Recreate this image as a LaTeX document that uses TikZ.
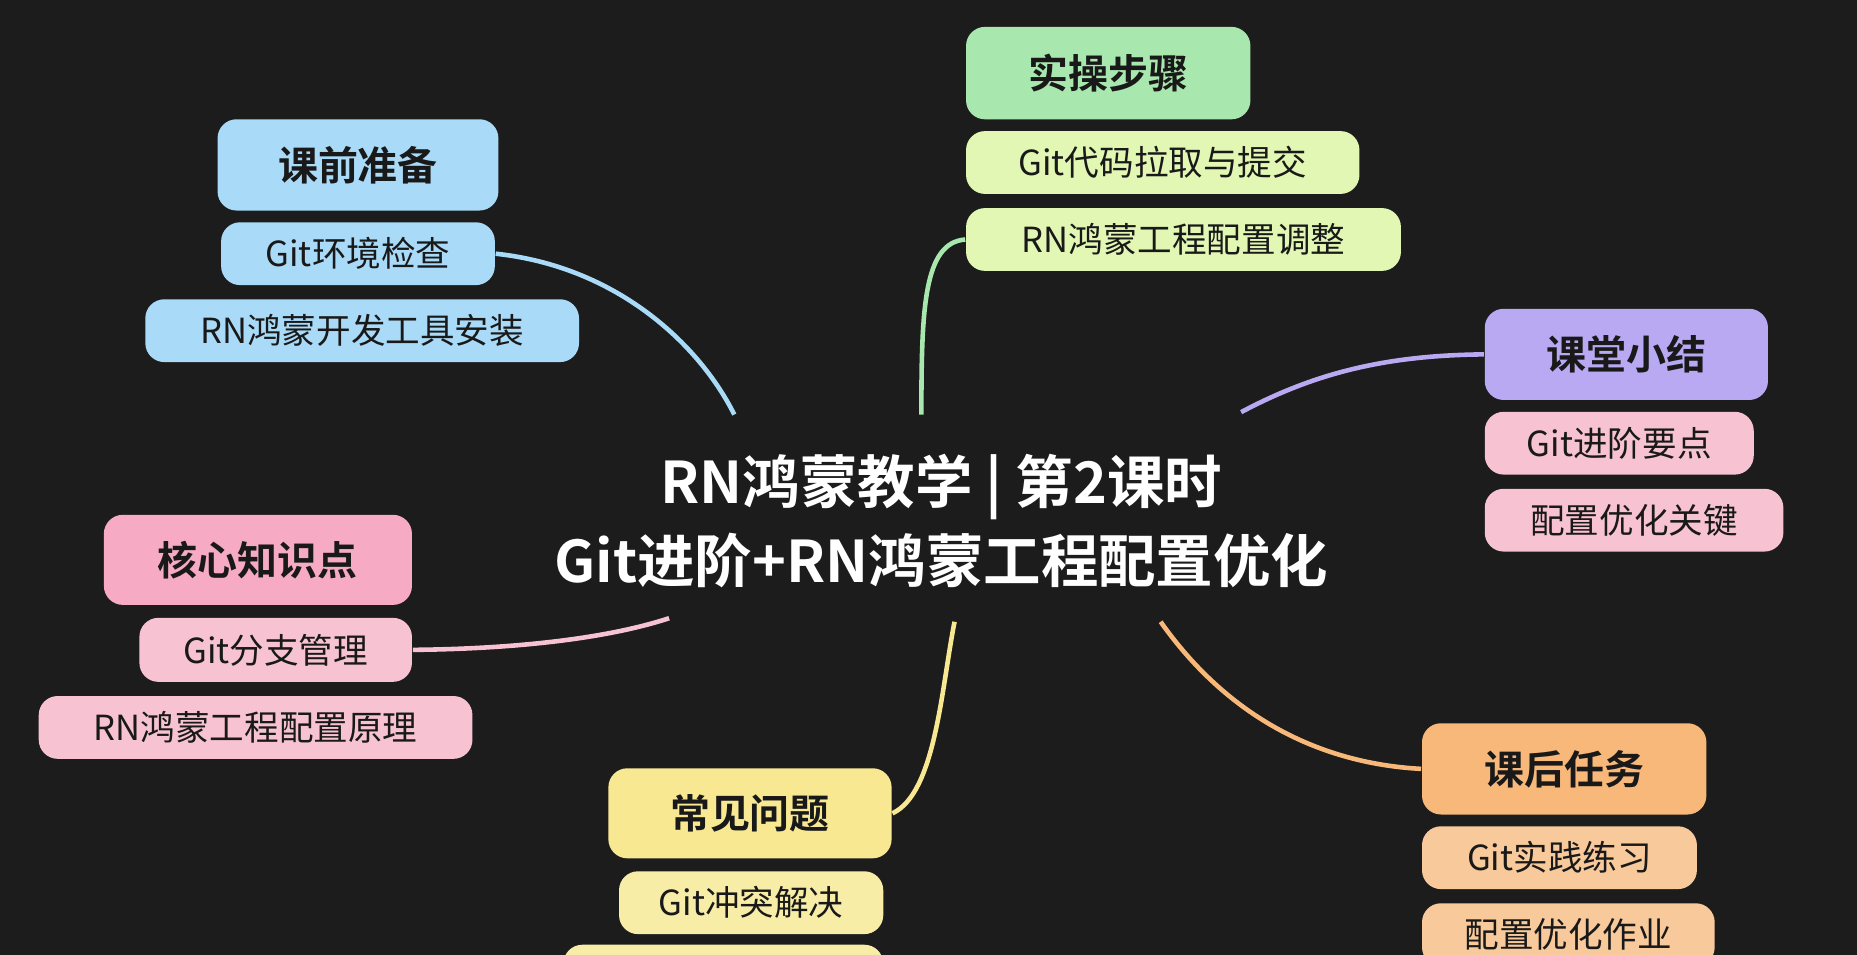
\documentclass[tikz,border=0pt]{standalone}
\usepackage{fontspec}
\setmainfont{Noto Sans CJK SC}
\newfontfamily\cjkb{Noto Sans CJK SC Bold}
\begin{document}
\begin{tikzpicture}[x=0.01cm,y=-0.01cm,
  box/.style={rounded corners=0.16cm,inner sep=0pt,anchor=north west},
  hd/.style={box,font=\cjkb\fontsize{9.6}{11}\selectfont,text=black!90},
  sb/.style={box,font=\fontsize{8.3}{10}\selectfont,text=black!90},
  ln/.style={line width=1.1pt}]
\definecolor{bg}{HTML}{1C1C1C}
\definecolor{cblue}{HTML}{A9DAF8}
\definecolor{cgreen}{HTML}{A8E8AE}
\definecolor{cyg}{HTML}{E2F7B4}
\definecolor{cpurp}{HTML}{B9A8F2}
\definecolor{cpink}{HTML}{F7C3D2}
\definecolor{cpink2}{HTML}{F6AAC3}
\definecolor{cyel}{HTML}{F7E891}
\definecolor{cyel2}{HTML}{F8EDA6}
\definecolor{corg}{HTML}{F8B87A}
\definecolor{corg2}{HTML}{F8C99A}
\fill[bg] (0,0) rectangle (1568,806);
\useasboundingbox (0,0) rectangle (1568,806);
\node[text=white,font=\cjkb\fontsize{13.8}{19}\selectfont,align=center] (c) at (795,440)
 {RN鸿蒙教学 | 第2课时\\Git进阶+RN鸿蒙工程配置优化};
% blue
\node[hd,fill=cblue,minimum width=23.7mm,minimum height=7.7mm] (a) at (183,100) {课前准备};
\node[sb,fill=cblue,minimum width=23.1mm,minimum height=5.3mm] (a1) at (186,187) {Git环境检查};
\node[sb,fill=cblue,minimum width=36.6mm,minimum height=5.3mm] (a2) at (122,252) {RN鸿蒙开发工具安装};
\coordinate (ae) at (620,350);
\draw[ln,cblue] (a1.east) .. controls (520,225) and (590,290) .. (ae);
% green
\node[hd,fill=cgreen,minimum width=24mm,minimum height=7.8mm] (b) at (815,22) {实操步骤};
\node[sb,fill=cyg,minimum width=33.2mm,minimum height=5.3mm] (b1) at (815,110) {Git代码拉取与提交};
\node[sb,fill=cyg,minimum width=36.7mm,minimum height=5.3mm] (b2) at (815,175) {RN鸿蒙工程配置调整};
\coordinate (be) at (778,350);
\draw[ln,cgreen] (b2.west) .. controls (780,205) and (778,260) .. (be);
% purple
\node[hd,fill=cpurp,minimum width=23.9mm,minimum height=7.7mm] (p) at (1253,260) {课堂小结};
\node[sb,fill=cpink,minimum width=22.7mm,minimum height=5.3mm] (p1) at (1253,347) {Git进阶要点};
\node[sb,fill=cpink,minimum width=25.2mm,minimum height=5.3mm] (p2) at (1253,412) {配置优化关键};
\coordinate (pe) at (1048,348);
\draw[ln,cpurp] (pe) .. controls (1110,315) and (1170,300) .. (p.west);
% pink
\node[hd,fill=cpink2,minimum width=26mm,minimum height=7.6mm] (k) at (87,434) {核心知识点};
\node[sb,fill=cpink,minimum width=23mm,minimum height=5.4mm] (k1) at (117,521) {Git分支管理};
\node[sb,fill=cpink,minimum width=36.6mm,minimum height=5.3mm] (k2) at (32,587) {RN鸿蒙工程配置原理};
\coordinate (ke) at (565,522);
\draw[ln,cpink] (k1.east) .. controls (430,548) and (510,540) .. (ke);
% yellow
\node[hd,fill=cyel,minimum width=23.9mm,minimum height=7.6mm] (y) at (513,648) {常见问题};
\node[sb,fill=cyel2,minimum width=22.3mm,minimum height=5.3mm] (y1) at (522,735) {Git冲突解决};
\node[sb,fill=cyel2,minimum width=27mm,minimum height=5.3mm] (y2) at (475,797) {};
\coordinate (ye) at (806,525);
\draw[ln,cyel] (y.east) .. controls (790,670) and (795,580) .. (ye);
% orange
\node[hd,fill=corg,minimum width=24mm,minimum height=7.7mm] (o) at (1200,610) {课后任务};
\node[sb,fill=corg2,minimum width=23.2mm,minimum height=5.3mm] (o1) at (1200,697) {Git实践练习};
\node[sb,fill=corg2,minimum width=24.7mm,minimum height=5.3mm] (o2) at (1200,762) {配置优化作业};
\coordinate (oe) at (980,525);
\draw[ln,corg] (oe) .. controls (1040,610) and (1120,645) .. (o.west);
\end{tikzpicture}
\end{document}
